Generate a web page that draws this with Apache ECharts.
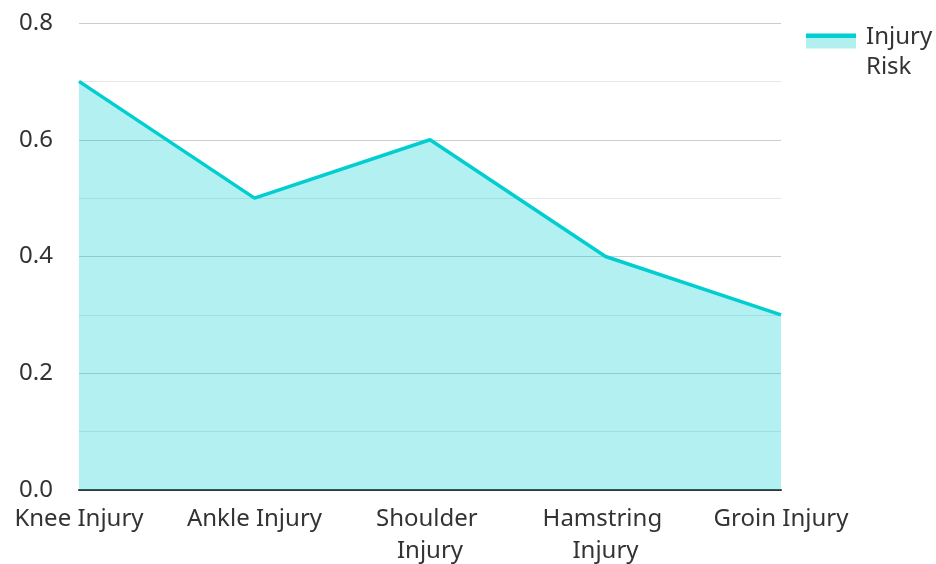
<!DOCTYPE html>
<html>
<head>
<meta charset="utf-8">
<script src="https://cdn.jsdelivr.net/npm/echarts@6/dist/echarts.min.js"></script>
<style>
  html, body { margin: 0; padding: 0; background: #fff; }
  #chart { width: 936px; height: 564px; }
</style>
</head>
<body>
<div id="chart"></div>
<script>
var injuries = ['Knee Injury', 'Ankle Injury', 'Shoulder Injury', 'Hamstring Injury', 'Groin Injury'];
var riskValues = [0.7, 0.5, 0.6, 0.4, 0.3];
var seriesName = 'Injury Risk';

var chartDom = document.getElementById('chart');
var myChart = echarts.init(chartDom);
var option;

option = {
    textStyle: {
        fontFamily: 'Noto Sans'
    },
    legend: {
        left: 806,
        top: 6,
        padding: 0,
        icon: 'rect',
        itemWidth: 50,
        itemHeight: 15,
        itemStyle: {
            color: new echarts.graphic.LinearGradient(0, 0, 0, 1, [
                { offset: 0, color: '#00CED1' },
                { offset: 0.27, color: '#00CED1' },
                { offset: 0.27, color: '#b2efef' },
                { offset: 1, color: '#b2efef' }
            ])
        },
        // name wrapped onto two lines, pushed down a little next to the icon
        formatter: function (name) {
            var parts = name.split(' ');
            return '{s| }\n' + parts.map(function (p) { return '{t|' + p + '}'; }).join('\n');
        },
        textStyle: {
            fontSize: 24,
            color: '#333',
            rich: {
                s: { fontSize: 10, lineHeight: 23 },
                t: { fontSize: 24, color: '#333', lineHeight: 30, padding: [0, 0, 0, 5] }
            }
        },
        data: [seriesName]
    },
    grid: {
        left: 79,
        right: 155,
        top: 23,
        bottom: 74,
        outerBoundsMode: 'none'
    },
    xAxis: {
        type: 'category',
        boundaryGap: false,
        data: injuries,
        axisLine: {
            lineStyle: { color: '#333', width: 2 }
        },
        axisTick: { show: false },
        axisLabel: {
            interval: 0,
            fontSize: 24,
            color: '#333',
            margin: 13,
            width: 150,
            overflow: 'break',
            lineHeight: 32
        }
    },
    yAxis: {
        type: 'value',
        min: 0,
        max: 0.8,
        interval: 0.2,
        axisLine: { show: false },
        axisTick: { show: false },
        axisLabel: {
            fontSize: 24,
            color: '#333',
            margin: 26,
            formatter: function (v) { return v.toFixed(1); }
        },
        splitLine: {
            lineStyle: { color: '#ccc', width: 1 }
        },
        minorTick: { show: false, splitNumber: 2 },
        minorSplitLine: {
            show: true,
            lineStyle: { color: '#e6e6e6', width: 1 }
        }
    },
    series: [
        {
            name: seriesName,
            type: 'line',
            data: riskValues,
            showSymbol: false,
            symbol: 'none',
            lineStyle: { color: '#00CED1', width: 3.5 },
            itemStyle: { color: '#00CED1' },
            areaStyle: { color: '#00CED1', opacity: 0.3 }
        }
    ]
};

option && myChart.setOption(option);
</script>
</body>
</html>
